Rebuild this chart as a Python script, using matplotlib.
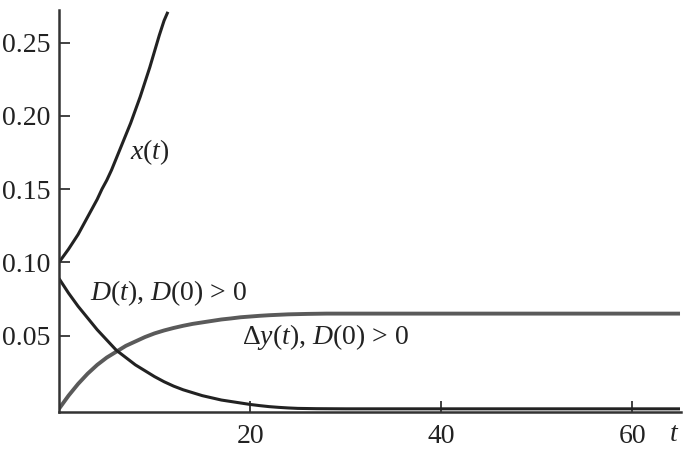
import matplotlib.pyplot as plt

# values
t_x = [0, 0.5, 1, 1.5, 2, 2.5, 3, 3.5, 4, 4.5, 5, 5.5, 6, 6.5, 7, 7.5, 8, 8.5,
       9, 9.5, 10, 10.5, 11, 11.4]
x_t = [0.100, 0.1045, 0.109, 0.114, 0.119, 0.125, 0.131, 0.137, 0.143, 0.150,
       0.156, 0.163, 0.171, 0.179, 0.187, 0.195, 0.204, 0.213, 0.223, 0.233,
       0.244, 0.255, 0.265, 0.271]

t_d = [0, 1, 2, 3, 4, 5, 6, 7, 8, 9, 10, 11, 12, 13, 14, 15, 16, 17, 18, 19,
       20, 21, 22, 23, 24, 25, 27, 30, 65]
d_t = [0.089, 0.079, 0.070, 0.062, 0.054, 0.047, 0.040, 0.035, 0.030, 0.026,
       0.022, 0.0185, 0.0155, 0.013, 0.011, 0.009, 0.0075, 0.006, 0.005, 0.004,
       0.003, 0.0022, 0.0015, 0.001, 0.0006, 0.0003, 0.0001, 0.0, 0.0]

t_dy = [0, 0.5, 1, 1.5, 2, 2.5, 3, 3.5, 4, 4.5, 5, 5.5, 6, 7, 8, 9, 10, 11, 12,
        13, 14, 15, 16, 17, 18, 19, 20, 21, 22, 23, 24, 26, 28, 30, 65]
dy_t = [0.000, 0.0045, 0.009, 0.013, 0.017, 0.0205, 0.024, 0.027, 0.030, 0.0325,
        0.035, 0.037, 0.039, 0.043, 0.046, 0.049, 0.0515, 0.0535, 0.0552,
        0.0567, 0.058, 0.059, 0.060, 0.061, 0.0617, 0.0625, 0.063, 0.0635,
        0.0639, 0.0642, 0.0645, 0.0648, 0.065, 0.065, 0.065]

xticks = [20, 40, 60]
yticks = [0.05, 0.10, 0.15, 0.20, 0.25]

plt.rcParams['font.family'] = ['Liberation Serif', 'DejaVu Serif']
plt.rcParams['mathtext.fontset'] = 'custom'
plt.rcParams['mathtext.rm'] = 'Liberation Serif'
plt.rcParams['mathtext.it'] = 'Liberation Serif:italic'

fig = plt.figure(figsize=(6.85, 4.51), dpi=100)
ax = fig.add_axes([0.0861, 0.087, 0.908, 0.891])

ax.plot(t_dy, dy_t, color='#5a5a5a', lw=2.8, solid_capstyle='butt')
ax.plot(t_d, d_t, color='#222222', lw=2.2, solid_capstyle='butt')
ax.plot(t_x, x_t, color='#222222', lw=2.2, solid_capstyle='butt')

ax.set_xlim(0, 65.1)
ax.set_ylim(-0.002, 0.2723)
ax.set_xticks(xticks)
ax.set_xticklabels([str(v) for v in xticks])
ax.set_yticks(yticks)
ax.set_yticklabels(['%.2f' % v for v in yticks])

for side in ['top', 'right']:
    ax.spines[side].set_visible(False)
for side in ['left', 'bottom']:
    ax.spines[side].set_color('#333333')
    ax.spines[side].set_linewidth(1.8)

ax.tick_params(direction='in', length=8, width=1.3, color='#333333',
               labelsize=20, labelcolor='#222222', pad=6)
ax.tick_params(axis='x', pad=9)

ax.text(7.4, 0.175, r'$x(t)$', fontsize=20, color='#222222', va='center')
ax.text(3.2, 0.079, r'$D(t)$, $D$(0) > 0', fontsize=20, color='#222222', va='center')
ax.text(19.2, 0.049, r'$\Delta y(t)$, $D$(0) > 0', fontsize=20, color='#222222', va='center')
ax.text(63.9, -0.0175, r'$t$', fontsize=20, color='#222222', va='center')

fig.savefig('out.png', dpi=100)
